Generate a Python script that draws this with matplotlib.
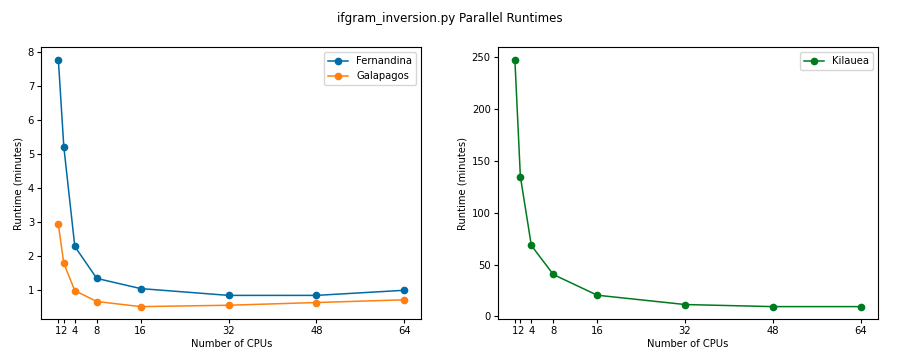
import matplotlib
matplotlib.use("Agg")
import matplotlib.pyplot as plt

cpus = [1, 2, 4, 8, 16, 32, 48, 64]
fernandina = [7.77, 5.2, 2.27, 1.33, 1.03, 0.83, 0.83, 0.98]
galapagos = [2.92, 1.77, 0.97, 0.65, 0.50, 0.54, 0.62, 0.70]
kilauea = [248, 135, 68.5, 40.5, 20.5, 11.5, 9.5, 9.5]

fs = 7.2
fig, (ax1, ax2) = plt.subplots(1, 2, figsize=(9, 3.6), dpi=100)
fig.suptitle("ifgram_inversion.py Parallel Runtimes", fontsize=8.6, y=0.968)

ax1.plot(cpus, fernandina, "o-", color="#006BA4", markersize=4.5, lw=1.1, label="Fernandina")
ax1.plot(cpus, galapagos, "o-", color="#FF800E", markersize=4.5, lw=1.1, label="Galapagos")
ax1.legend(fontsize=fs)

ax2.plot(cpus, kilauea, "o-", color="#007a1f", markersize=4.5, lw=1.1, label="Kilauea")
ax2.legend(fontsize=fs)

for ax in (ax1, ax2):
    ax.set_xticks(cpus)
    ax.set_xlabel("Number of CPUs", fontsize=fs, labelpad=2)
    ax.set_ylabel("Runtime (minutes)", fontsize=fs, labelpad=3)
    ax.tick_params(labelsize=fs, length=3, pad=2)
    for s in ax.spines.values():
        s.set_linewidth(0.8)

fig.subplots_adjust(left=0.0456, right=0.9756, top=0.869, bottom=0.114, wspace=0.2)
fig.savefig("out.png")
